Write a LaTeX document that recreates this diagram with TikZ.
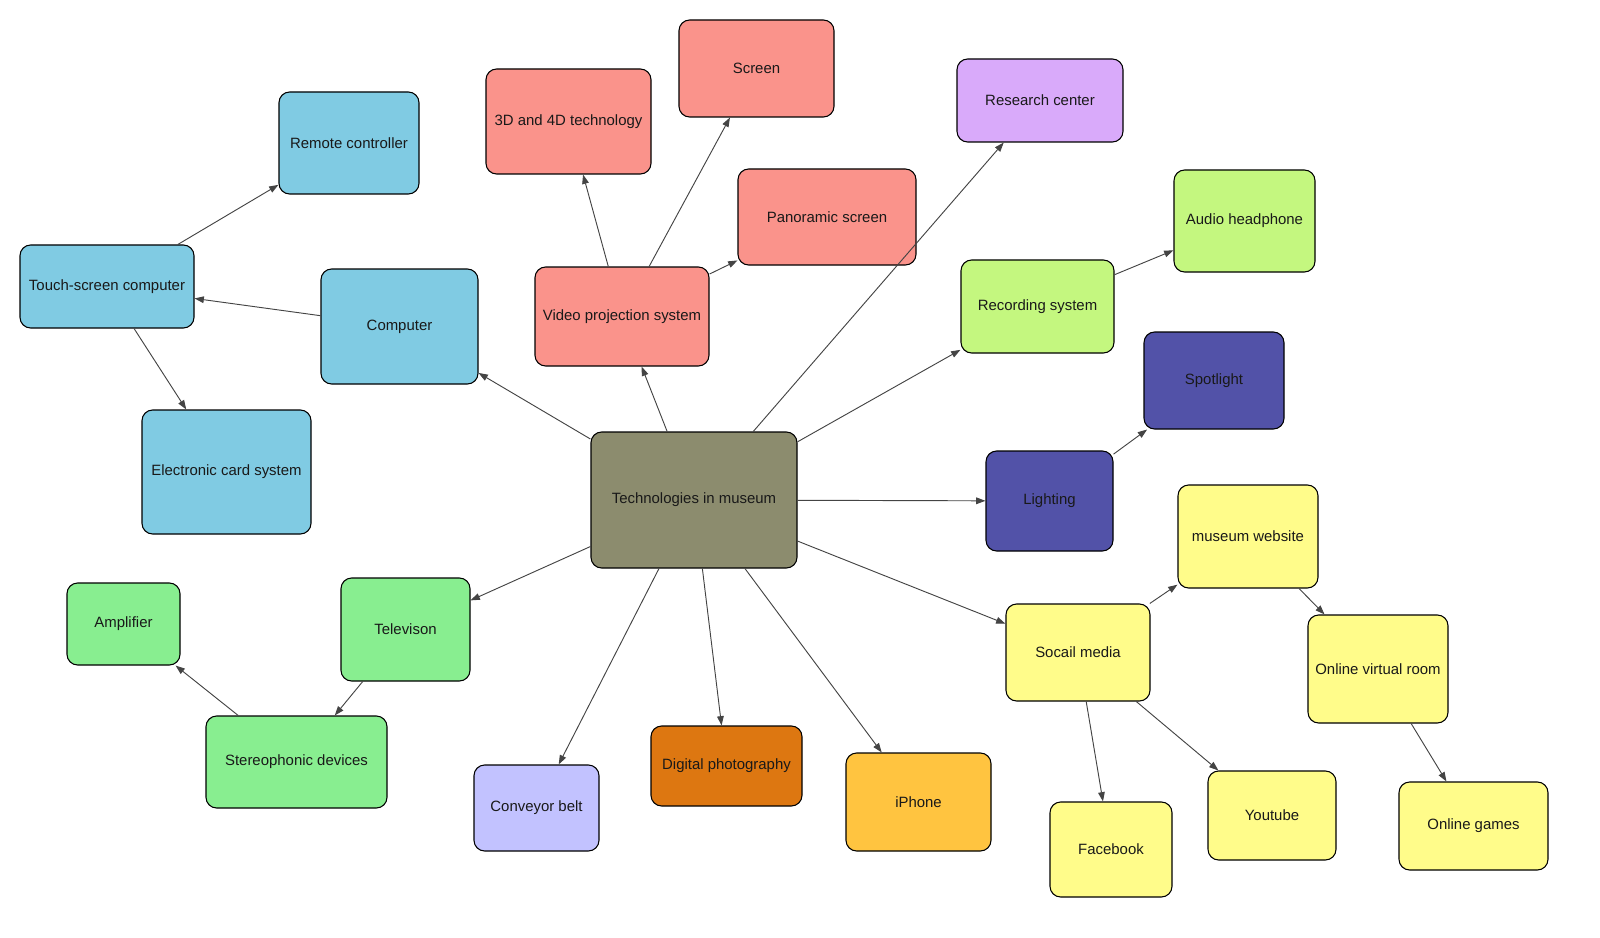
\documentclass[tikz,border=0pt]{standalone}
\usepackage{fontspec}
\setmainfont{Liberation Sans}
\usetikzlibrary{arrows.meta}
\definecolor{cOlive}{HTML}{8C8C6E}
\definecolor{cBlue}{HTML}{80CBE3}
\definecolor{cSalmon}{HTML}{FA938B}
\definecolor{cLav}{HTML}{D9AAFA}
\definecolor{cLime}{HTML}{C4F77F}
\definecolor{cNavy}{HTML}{5252A8}
\definecolor{cYellow}{HTML}{FFFC8A}
\definecolor{cOrange}{HTML}{FFC440}
\definecolor{cDkOrange}{HTML}{DD7711}
\definecolor{cPeri}{HTML}{C2C2FF}
\definecolor{cGreen}{HTML}{88EE90}
\definecolor{cEdge}{HTML}{444444}
\tikzset{
  box/.style={draw=black, line width=0.8pt, rounded corners=8pt, inner sep=0pt,
    align=center, font=\fontsize{11.2}{13}\selectfont, text=black!90},
  conn/.style={draw=cEdge, line width=0.7pt, -{Triangle[length=7pt,width=5pt]}},
}
\begin{document}
\begin{tikzpicture}[x=0.75pt,y=-0.75pt]
\useasboundingbox (0,0) rectangle (1600,938);
% nodes: center x, center y (pixels of the reference)
\node[box, fill=cOlive, minimum width=154.5pt, minimum height=102pt] (tech) at (694,500) {Technologies in museum};
\node[box, fill=cBlue, minimum width=117.75pt, minimum height=86.25pt] (comp) at (399.5,326.5) {Computer};
\node[box, fill=cBlue, minimum width=130.5pt, minimum height=62.25pt] (touch) at (107,286.5) {Touch-screen computer};
\node[box, fill=cBlue, minimum width=105pt, minimum height=76.5pt] (remote) at (349,143) {Remote controller};
\node[box, fill=cBlue, minimum width=126.75pt, minimum height=93pt] (card) at (226.5,472) {Electronic card system};
\node[box, fill=cSalmon, minimum width=130.5pt, minimum height=74.25pt] (video) at (622,316.5) {Video projection system};
\node[box, fill=cSalmon, minimum width=123.75pt, minimum height=78.75pt] (threed) at (568.5,121.5) {3D and 4D technology};
\node[box, fill=cSalmon, minimum width=116.25pt, minimum height=72.75pt] (screen) at (756.5,68.5) {Screen};
\node[box, fill=cSalmon, minimum width=133.5pt, minimum height=72pt] (pano) at (827,217) {Panoramic screen};
\node[box, fill=cLav, minimum width=124.5pt, minimum height=62.25pt] (research) at (1040,100.5) {Research center};
\node[box, fill=cLime, minimum width=114.75pt, minimum height=69.75pt] (rec) at (1037.5,306.5) {Recording system};
\node[box, fill=cLime, minimum width=105.75pt, minimum height=76.5pt] (audio) at (1244.5,221) {Audio headphone};
\node[box, fill=cNavy, minimum width=105pt, minimum height=72.75pt] (spot) at (1214,380.5) {Spotlight};
\node[box, fill=cNavy, minimum width=95.25pt, minimum height=75pt] (light) at (1049.5,501) {Lighting};
\node[box, fill=cYellow, minimum width=105pt, minimum height=77.25pt] (web) at (1248,536.5) {museum website};
\node[box, fill=cYellow, minimum width=108pt, minimum height=72.75pt] (social) at (1078,652.5) {Socail media};
\node[box, fill=cYellow, minimum width=105pt, minimum height=81pt] (virtual) at (1378,669) {Online virtual room};
\node[box, fill=cYellow, minimum width=111.75pt, minimum height=66pt] (games) at (1473.5,826) {Online games};
\node[box, fill=cYellow, minimum width=96pt, minimum height=66.75pt] (yt) at (1272,815.5) {Youtube};
\node[box, fill=cYellow, minimum width=91.5pt, minimum height=71.25pt] (fb) at (1111,849.5) {Facebook};
\node[box, fill=cOrange, minimum width=108.75pt, minimum height=73.5pt] (iphone) at (918.5,802) {iPhone};
\node[box, fill=cDkOrange, minimum width=113.25pt, minimum height=60pt] (photo) at (726.5,766) {Digital photography};
\node[box, fill=cPeri, minimum width=93.75pt, minimum height=64.5pt] (conv) at (536.5,808) {Conveyor belt};
\node[box, fill=cGreen, minimum width=96.75pt, minimum height=77.25pt] (tv) at (405.5,629.5) {Televison};
\node[box, fill=cGreen, minimum width=135.75pt, minimum height=69pt] (stereo) at (296.5,762) {Stereophonic devices};
\node[box, fill=cGreen, minimum width=84.75pt, minimum height=61.5pt] (amp) at (123.5,624) {Amplifier};
% connectors
\draw[conn] (tech) -- (comp);
\draw[conn] (comp) -- (touch);
\draw[conn] (touch) -- (remote);
\draw[conn] (touch) -- (card);
\draw[conn] (tech) -- (video);
\draw[conn] (video) -- (threed);
\draw[conn] (video) -- (screen);
\draw[conn] (video) -- (pano);
\draw[conn] (tech) -- (research);
\draw[conn] (tech) -- (rec);
\draw[conn] (rec) -- (audio);
\draw[conn] (tech) -- (light);
\draw[conn] (light) -- (spot);
\draw[conn] (tech) -- (social);
\draw[conn] (social) -- (web);
\draw[conn] (web) -- (virtual);
\draw[conn] (virtual) -- (games);
\draw[conn] (social) -- (yt);
\draw[conn] (social) -- (fb);
\draw[conn] (tech) -- (iphone);
\draw[conn] (tech) -- (photo);
\draw[conn] (tech) -- (conv);
\draw[conn] (tech) -- (tv);
\draw[conn] (tv) -- (stereo);
\draw[conn] (stereo) -- (amp);
\end{tikzpicture}
\end{document}
